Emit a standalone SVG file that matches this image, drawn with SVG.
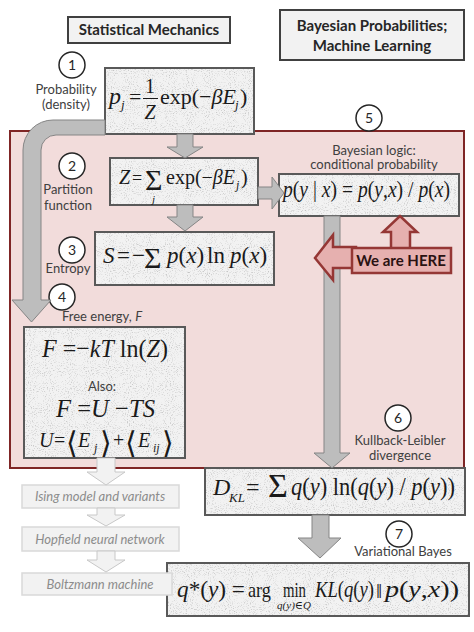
<svg xmlns="http://www.w3.org/2000/svg" width="474" height="632" viewBox="0 0 474 632">
<defs>
<filter id="grain" x="0" y="0" width="1" height="1">
<feTurbulence type="fractalNoise" baseFrequency="0.95" numOctaves="2" seed="7" result="n"/>
<feColorMatrix in="n" type="matrix" values="0 0 0 0 0.55  0 0 0 0 0.55  0 0 0 0 0.55  0 0 0 -3 1.38" result="s"/>
<feComposite in="s" in2="SourceGraphic" operator="in"/>
</filter>
</defs>
<style>
.title{fill:#f2f2f2;stroke:#404040;stroke-width:2}
.tt{font-family:Lato,"Open Sans",sans-serif;font-weight:bold;font-size:15px;fill:#262626;text-anchor:middle}
.box{fill:#f2f2f2;stroke:#595959;stroke-width:2}
.gr{fill:#000;filter:url(#grain)}
.m{font-family:"Liberation Serif","Times New Roman","DejaVu Serif",serif;fill:#1a1a1a}
.i{font-style:italic}
.lbl{font-family:Lato,"Open Sans",sans-serif;font-size:13px;fill:#404040;text-anchor:middle}
.num{fill:#fff;stroke:#262626;stroke-width:1.5}
.nt{font-family:Lato,"Open Sans",sans-serif;font-size:14px;fill:#262626;text-anchor:middle}
.arr{fill:#bdbdbd;stroke:#858585;stroke-width:1}
.farr{fill:#f2f2f2;stroke:#c8c8c8;stroke-width:1}
.fbox{fill:#f2f2f2;stroke:#d9d9d9;stroke-width:1.5}
.ft{font-family:Lato,"Open Sans",sans-serif;font-style:italic;font-size:13px;fill:#8c8c8c;text-anchor:middle}
.co{fill:#e6b0af;stroke:#953735;stroke-width:2.5}
</style>

<g id="title-stat">
<rect class="title" x="68" y="17" width="162" height="26"/>
<text class="tt" x="149" y="35">Statistical Mechanics</text>
</g>
<g id="title-bayes">
<rect class="title" x="280" y="10" width="184" height="50"/>
<text class="tt" x="372" y="31">Bayesian Probabilities;</text>
<text class="tt" x="372" y="51">Machine Learning</text>
</g>

<g id="region">
<rect x="10" y="131" width="454" height="337" fill="#f2dcdb" stroke="#7f2525" stroke-width="2"/>
</g>

<g id="labels">
<circle class="num" cx="72" cy="65" r="13"/><text class="nt" x="72" y="70">1</text>
<text class="lbl" x="66" y="94">Probability</text>
<text class="lbl" x="66" y="109">(density)</text>
<circle class="num" cx="72" cy="166" r="13"/><text class="nt" x="72" y="171">2</text>
<text class="lbl" x="68" y="194">Partition</text>
<text class="lbl" x="68" y="210">function</text>
<circle class="num" cx="72" cy="250" r="13"/><text class="nt" x="72" y="255">3</text>
<text class="lbl" x="68" y="273">Entropy</text>
<circle class="num" cx="62" cy="297" r="13"/><text class="nt" x="62" y="302">4</text>
<text class="lbl" x="102" y="321">Free energy, <tspan font-style="italic">F</tspan></text>
<circle class="num" cx="369" cy="118" r="13"/><text class="nt" x="369" y="123">5</text>
<text class="lbl" x="374" y="155">Bayesian logic:</text>
<text class="lbl" x="374" y="169">conditional probability</text>
<circle class="num" cx="398" cy="418" r="13"/><text class="nt" x="398" y="423">6</text>
<text class="lbl" x="400" y="445">Kullback-Leibler</text>
<text class="lbl" x="400" y="460">divergence</text>
<circle class="num" cx="399" cy="534" r="13"/><text class="nt" x="399" y="539">7</text>
<text class="lbl" x="403" y="556">Variational Bayes</text>
</g>

<g id="n1-probability">
<rect class="box" x="105" y="68" width="149" height="66"/>
<rect class="gr" x="106" y="69" width="147" height="64"/>
<text class="m i" x="109" y="104" font-size="24">p</text>
<text class="m i" x="121" y="109" font-size="13">j</text>
<text class="m" x="129" y="104" font-size="22">=</text>
<text class="m" x="150" y="93" font-size="20" text-anchor="middle">1</text>
<line x1="143" y1="98.5" x2="158" y2="98.5" stroke="#1a1a1a" stroke-width="1"/>
<text class="m i" x="150" y="119" font-size="20" text-anchor="middle">Z</text>
<text class="m" x="160" y="104" font-size="22">exp(−<tspan class="i">βE</tspan></text>
<text class="m i" x="235" y="109" font-size="13">j</text>
<text class="m" x="240" y="104" font-size="22">)</text>
</g>

<g id="n2-partition">
<rect class="box" x="110" y="158" width="148" height="47"/>
<rect class="gr" x="111" y="159" width="146" height="45"/>
<text class="m i" x="119" y="184" font-size="20">Z</text>
<text class="m" x="132" y="184" font-size="18">=</text>
<text class="m" x="145" y="190" font-size="30">Σ</text>
<text class="m i" x="152" y="203" font-size="11">j</text>
<text class="m" x="166" y="184" font-size="20">exp(−<tspan class="i">βE</tspan></text>
<text class="m i" x="236" y="189" font-size="12">j</text>
<text class="m" x="241" y="184" font-size="20">)</text>
</g>

<g id="n3-entropy">
<rect class="box" x="95" y="232" width="179" height="53"/>
<rect class="gr" x="96" y="233" width="177" height="51"/>
<text class="m i" x="103" y="263" font-size="23">S</text>
<text class="m" x="117" y="263" font-size="23">=</text>
<text class="m" x="132" y="263" font-size="23">−</text>
<text class="m" x="144" y="268" font-size="30">Σ</text>
<text class="m" x="167" y="263" font-size="23"><tspan class="i">p</tspan>(<tspan class="i">x</tspan>)</text>
<text class="m" x="207" y="263" font-size="23">ln</text>
<text class="m" x="230" y="263" font-size="23"><tspan class="i">p</tspan>(<tspan class="i">x</tspan>)</text>
</g>

<g id="n4-free-energy">
<rect class="box" x="24" y="327" width="161" height="131"/>
<rect class="gr" x="25" y="328" width="159" height="129"/>
<text class="m" x="42" y="357" font-size="26" textLength="126" lengthAdjust="spacingAndGlyphs"><tspan class="i">F</tspan> =−<tspan class="i">kT</tspan> ln(<tspan class="i">Z</tspan>)</text>
<text class="lbl" x="102" y="391" fill="#333">Also:</text>
<text class="m" x="56" y="417" font-size="26" textLength="99" lengthAdjust="spacingAndGlyphs"><tspan class="i">F</tspan> =<tspan class="i">U</tspan> −<tspan class="i">TS</tspan></text>
<text class="m i" x="39" y="447" font-size="20">U</text>
<text class="m" x="54" y="447" font-size="20">=</text>
<text class="m" x="66" y="453" font-size="30">⟨</text>
<text class="m i" x="78" y="447" font-size="20">E</text>
<text class="m i" x="94" y="452" font-size="12">j</text>
<text class="m" x="100" y="453" font-size="30">⟩</text>
<text class="m" x="113" y="447" font-size="20">+</text>
<text class="m" x="125" y="453" font-size="30">⟨</text>
<text class="m i" x="138" y="447" font-size="20">E</text>
<text class="m i" x="153" y="452" font-size="12">ij</text>
<text class="m" x="162" y="453" font-size="30">⟩</text>
</g>

<g id="n5-bayes">
<rect class="box" x="279" y="174" width="180" height="42"/>
<rect class="gr" x="280" y="175" width="178" height="40"/>
<text class="m" x="283" y="197" font-size="23" textLength="167" lengthAdjust="spacingAndGlyphs"><tspan class="i">p</tspan>(<tspan class="i">y</tspan> | <tspan class="i">x</tspan>) = <tspan class="i">p</tspan>(<tspan class="i">y</tspan>,<tspan class="i">x</tspan>) / <tspan class="i">p</tspan>(<tspan class="i">x</tspan>)</text>
</g>

<g id="n6-kl">
<rect class="box" x="205" y="468" width="260" height="47"/>
<rect class="gr" x="206" y="469" width="258" height="45"/>
<text class="m i" x="213" y="495" font-size="24">D</text>
<text class="m i" x="229" y="502" font-size="13">KL</text>
<text class="m" x="246" y="495" font-size="24">=</text>
<text class="m" x="268" y="497" font-size="34">Σ</text>
<text class="m" x="291" y="495" font-size="25" textLength="164" lengthAdjust="spacingAndGlyphs"><tspan class="i">q</tspan>(<tspan class="i">y</tspan>) ln(<tspan class="i">q</tspan>(<tspan class="i">y</tspan>) / <tspan class="i">p</tspan>(<tspan class="i">y</tspan>))</text>
</g>

<g id="n7-variational">
<rect class="box" x="167" y="563" width="302" height="53"/>
<rect class="gr" x="168" y="564" width="300" height="51"/>
<text class="m" x="177" y="597" font-size="24" textLength="68" lengthAdjust="spacingAndGlyphs"><tspan class="i">q</tspan>*(<tspan class="i">y</tspan>) =</text>
<text class="m" x="248" y="597" font-size="22" textLength="23" lengthAdjust="spacingAndGlyphs">arg</text>
<text class="m" x="283" y="597" font-size="22" textLength="23" lengthAdjust="spacingAndGlyphs">min</text>
<text class="m i" x="294" y="609" font-size="11" text-anchor="middle">q(y)∈Q</text>
<text class="m" x="315" y="597" font-size="24" textLength="59" lengthAdjust="spacingAndGlyphs"><tspan class="i">KL</tspan>(<tspan class="i">q</tspan>(<tspan class="i">y</tspan>)</text>
<text class="m" x="376" y="598" font-size="22">‖</text>
<text class="m" x="385" y="597" font-size="24" textLength="74" lengthAdjust="spacingAndGlyphs"><tspan class="i">p</tspan>(<tspan class="i">y</tspan>,<tspan class="i">x</tspan>))</text>
</g>

<g id="n-ising">
<rect class="fbox" x="22" y="485" width="157" height="23"/>
<text class="ft" x="100" y="501">Ising model and variants</text>
</g>
<g id="n-hopfield">
<rect class="fbox" x="22" y="527" width="157" height="24"/>
<text class="ft" x="100" y="544">Hopfield neural network</text>
</g>
<g id="n-boltzmann">
<rect class="fbox" x="22" y="573" width="150" height="22"/>
<text class="ft" x="100" y="589">Boltzmann machine</text>
</g>

<g id="connectors">
<path class="arr" d="M105,120 H53 A30,30 0 0 0 23,150 V300 H12 L31.5,322 L51,300 H41 V150 A15,15 0 0 1 56,135 H105 Z"/>
<polygon class="arr" points="177,134 193,134 193,147 203,147 185,158 167,147 177,147"/>
<polygon class="arr" points="177,205 193,205 193,217 203,217 185,231 167,217 177,217"/>
<polygon class="arr" points="258,187 272,187 272,177 284,193 272,209 272,199 258,199"/>
<polygon class="arr" points="324,216 340,216 340,453 350,453 332,468 314,453 324,453"/>
<polygon class="arr" points="312,515 329,515 329,538 341,538 320,558 298,538 312,538"/>
<polygon class="farr" points="97,458 115,458 115,472 125,472 106,485 87,472 97,472"/>
<polygon class="farr" points="97,508 115,508 115,515 125,515 106,526 87,515 97,515"/>
<polygon class="farr" points="97,551 115,551 115,560 125,560 106,572 87,560 97,560"/>
</g>

<g id="callout-here">
<polygon class="co" points="356,247 333,247 333,235 315,258 333,280 333,268 356,268"/>
<polygon class="co" points="391,250 391,232 383,232 400,216 417,232 410,232 410,250"/>
<rect class="co" x="352" y="248" width="99" height="25"/>
<text x="401" y="266" font-family="Lato,'Open Sans',sans-serif" font-weight="bold" font-size="15" fill="#2a1212" text-anchor="middle">We are HERE</text>
</g>
</svg>
